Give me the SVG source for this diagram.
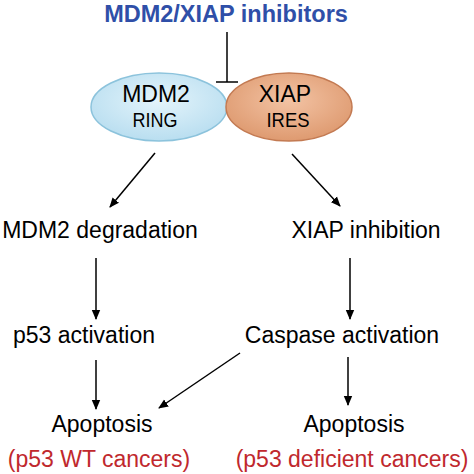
<svg xmlns="http://www.w3.org/2000/svg" width="474" height="474" viewBox="0 0 474 474">
<defs>
<radialGradient id="gBlue" cx="0.5" cy="0.4" r="0.6">
<stop offset="0" stop-color="#e4f4fb"/>
<stop offset="1" stop-color="#b9def0"/>
</radialGradient>
<radialGradient id="gOrange" cx="0.5" cy="0.4" r="0.6">
<stop offset="0" stop-color="#f3c3a4"/>
<stop offset="1" stop-color="#de9a70"/>
</radialGradient>
<marker id="arr" viewBox="0 0 10 10" refX="9" refY="5" markerWidth="10" markerHeight="10" markerUnits="userSpaceOnUse" orient="auto">
<path d="M0,0.8 L10,5 L0,9.2 z" fill="#000"/>
</marker>
</defs>
<style>
text{font-family:"Liberation Sans",Arial,sans-serif;text-anchor:middle;fill:#000}
.lbl{font-size:23px}
.red{font-size:23px;fill:#c0282d}
.title{font-size:23.5px;font-weight:bold;fill:#2f4fa8}
.conn line{stroke:#000;stroke-width:1.5;fill:none}
</style>
<rect width="474" height="474" fill="#fff"/>
<g id="title"><text class="title" x="226" y="22">MDM2/XIAP inhibitors</text></g>
<g id="mdm2">
<ellipse cx="159" cy="107" rx="68" ry="34" fill="url(#gBlue)" stroke="#8cc3dc" stroke-width="1.5"/>
<text x="156" y="102" font-size="23">MDM2</text>
<text x="155" y="127" font-size="20" textLength="45" lengthAdjust="spacingAndGlyphs">RING</text>
</g>
<g id="xiap">
<ellipse cx="289" cy="107" rx="63" ry="34" fill="url(#gOrange)" stroke="#c37a52" stroke-width="1.5"/>
<text x="285" y="102" font-size="23">XIAP</text>
<text x="288" y="127" font-size="20" textLength="43" lengthAdjust="spacingAndGlyphs">IRES</text>
</g>
<g id="n_mdm2deg"><text class="lbl" x="100" y="238">MDM2 degradation</text></g>
<g id="n_xiapinh"><text class="lbl" x="366" y="238">XIAP inhibition</text></g>
<g id="n_p53"><text class="lbl" x="84" y="343">p53 activation</text></g>
<g id="n_casp"><text class="lbl" x="342" y="343">Caspase activation</text></g>
<g id="n_apo1"><text class="lbl" x="102" y="432">Apoptosis</text><text class="red" x="99" y="467">(p53 WT cancers)</text></g>
<g id="n_apo2"><text class="lbl" x="354" y="432">Apoptosis</text><text class="red" x="352" y="467">(p53 deficient cancers)</text></g>
<g class="conn" id="connectors">
<line x1="227" y1="32" x2="227" y2="82" stroke-width="3"/>
<line x1="216" y1="82" x2="238" y2="82" stroke-width="3"/>
<line x1="155" y1="153" x2="110" y2="207" marker-end="url(#arr)"/>
<line x1="292" y1="154" x2="340" y2="206" marker-end="url(#arr)"/>
<line x1="96" y1="258" x2="96" y2="319" marker-end="url(#arr)"/>
<line x1="350" y1="258" x2="350" y2="319" marker-end="url(#arr)"/>
<line x1="96" y1="360" x2="96" y2="409" marker-end="url(#arr)"/>
<line x1="348" y1="357" x2="348" y2="405" marker-end="url(#arr)"/>
<line x1="240" y1="353" x2="159" y2="408" marker-end="url(#arr)"/>
</g>
</svg>
